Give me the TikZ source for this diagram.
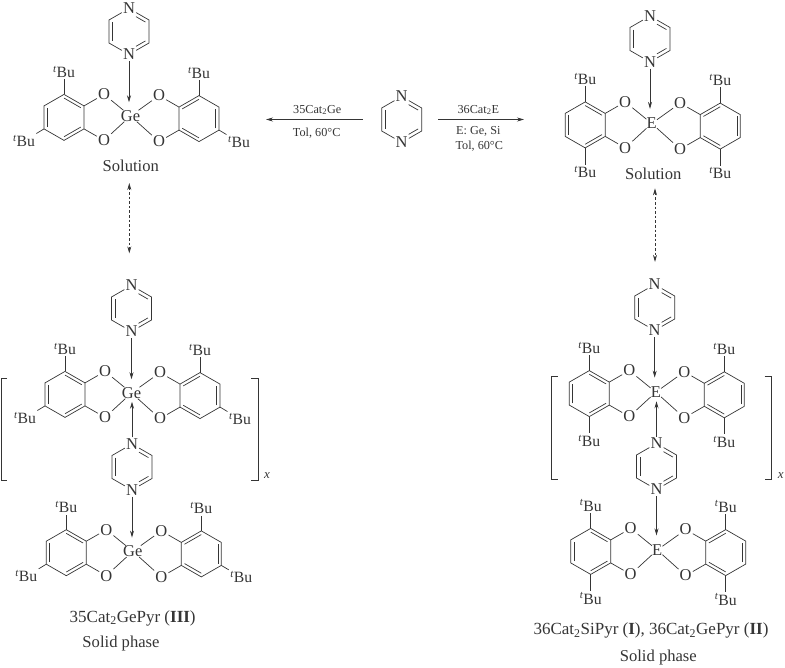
\documentclass[tikz,border=0pt]{standalone}
\usepackage{fontspec}
\setmainfont{Liberation Serif}
\usetikzlibrary{calc,arrows.meta}
\definecolor{ink}{HTML}{353535}
\newcommand{\fsize}[1]{\fontsize{#1}{#1}\selectfont}
\newcommand{\drawPyrazine}[3]{%
    \begin{scope}[shift={(#2,#3)}]
        \coordinate (#1c) at (0,0);
        \node[atom] (#1top) at (0,-23) {N};
        \node[atom] (#1bot) at (0,23) {N};
        \coordinate (#1ul) at (-20,-11.5);
        \coordinate (#1ll) at (-20,11.5);
        \coordinate (#1ur) at (20,-11.5);
        \coordinate (#1lr) at (20,11.5);
        \draw[bond] (#1top) -- (#1ul) -- (#1ll) -- (#1bot) -- (#1lr) -- (#1ur) -- (#1top);
        \draw[bond] ($(#1c)!.82!(#1ul)$) -- ($(#1c)!.82!(#1ll)$);
        \draw[bond,shorten <=8pt] ($(#1c)!.82!(#1top)$) -- ($(#1c)!.82!(#1ur)$);
        \draw[bond,shorten <=8pt] ($(#1c)!.82!(#1bot)$) -- ($(#1c)!.82!(#1lr)$);
    \end{scope}
}
\newcommand{\drawArene}[4]{%
    \begin{scope}[shift={(#2,#3)},xscale=#4]
        \coordinate (#1c) at (0,0);
        \coordinate (#1top) at (0,-23);
        \coordinate (#1bot) at (0,23);
        \coordinate (#1iu) at (20,-11.5);
        \coordinate (#1il) at (20,11.5);
        \coordinate (#1ou) at (-20,-11.5);
        \coordinate (#1ol) at (-20,11.5);
        \draw[bond] (#1top) -- (#1iu) -- (#1il) -- (#1bot) -- (#1ol) -- (#1ou) -- cycle;
        \foreach \a/\b in {top/iu,il/bot,ol/ou} {
            \draw[bond] ($(#1c)!.84!(#1\a)$) -- ($(#1c)!.84!(#1\b)$);
        }
    \end{scope}
}
\newcommand{\drawCore}[4]{%
    \begin{scope}[shift={(#2,#3)}]
        \node[atom,inner sep=0pt] (#1E) at (-1,-2) {#4};
        \node[atom] (#1Oa) at (-27.5,-23.6) {O};
        \node[atom] (#1Ob) at (-27.5,22.4) {O};
        \node[atom] (#1Oc) at (27.5,-22.4) {O};
        \node[atom] (#1Od) at (27.5,23.6) {O};
        \drawArene{#1L}{-67.5}{-.6}{1}
        \drawArene{#1R}{67.5}{.6}{-1}
        \draw[bond] (#1Liu) -- (#1Oa) -- (#1E) -- (#1Od) -- (#1Ril);
        \draw[bond] (#1Lil) -- (#1Ob) -- (#1E) -- (#1Oc) -- (#1Riu);
    \end{scope}
}
\newcommand{\drawButyl}[4]{%
    \begin{scope}[shift={(#2,#3)}]
        \foreach \site/\dx/\dy [count=\k] in {#4} {
            \node[butyl] (#1Bu\k) at (\dx,\dy) {\textsuperscript{\itshape t}Bu};
            \draw[bond] (#1\site) -- (#1Bu\k);
        }
    \end{scope}
}
\newcommand{\drawThreeFive}[4]{%
    \drawCore{#1}{#2}{#3}{#4}
    \drawButyl{#1}{#2}{#3}{Ltop/-67.5/-46,Lol/-107.5/23,Rtop/67.5/-45,Rol/107.5/24}
}
\newcommand{\drawThreeSix}[4]{%
    \drawCore{#1}{#2}{#3}{#4}
    \drawButyl{#1}{#2}{#3}{Ltop/-67.5/-46.5,Lbot/-67.5/46.5,Rtop/67.5/-45.5,Rbot/67.5/47.5}
}
\newcommand{\drawBrackets}[5]{%
    \draw[bond] (#1+6,#3) -- (#1,#3) -- (#1,#4) -- (#1+6,#4);
    \draw[bond] (#2-7,#3) -- (#2,#3) -- (#2,#4) -- (#2-7,#4);
    \node[cond,font=\fsize{13}\itshape] (#5) at (#2+9,#4-4) {x};
}

\begin{document}
\begin{tikzpicture}[x=1pt,y=-1pt,color=ink,
    bond/.style={draw=ink,line width=.7pt},
    atom/.style={inner sep=1pt,text=ink,font=\fsize{16.5}},
    butyl/.style={inner sep=1.5pt,text=ink,font=\fsize{15.7}},
    txt/.style={inner sep=0pt,text=ink,font=\fsize{16.6}},
    cond/.style={inner sep=0pt,text=ink,font=\fsize{12.2}},
    dative/.style={draw=ink,line width=.7pt,-{Stealth[length=7pt,width=4pt]}},
    dashlink/.style={draw=ink,line width=.7pt,dash pattern=on 2.6pt off 2pt,{Stealth[length=7pt,width=4pt]}-{Stealth[length=7pt,width=4pt]}}]
\useasboundingbox (0,0) rectangle (785,668);

% starting pyrazine and both reactions
\drawPyrazine{pyrC}{401.7}{119.5}
\coordinate (arrL) at (266,119.5);
\coordinate (arrR) at (524,119.5);
\draw[dative,shorten <=39pt] (pyrCc) -- (arrL);
\draw[dative,shorten <=36.6pt] (pyrCc) -- (arrR);
\node[cond] (condA) at (317.3,110) {35Cat\textsubscript{2}Ge};
\node[cond] (condB) at (316.7,133.3) {Tol, 60°C};
\node[cond] (condC) at (478.3,110) {36Cat\textsubscript{2}E};
\node[cond] (condD) at (478.3,131) {E: Ge, Si};
\node[cond] (condE) at (479.3,146) {Tol, 60°C};

% left column
\drawThreeFive{geA}{131.5}{118}{Ge}
\drawPyrazine{pyrA}{129}{31.5}
\draw[dative,shorten >=8pt] (pyrAbot.south) -- (pyrAbot.south |- geAE.north);
\node[txt] (solA) at (130.8,166) {Solution};

\drawThreeFive{geB}{132.5}{395}{Ge}
\drawPyrazine{pyrB}{131.5}{308.5}
\drawPyrazine{pyrD}{132}{467}
\draw[dative,shorten >=8pt] (pyrBbot.south) -- (pyrBbot.south |- geBE.north);
\draw[dative,shorten >=3pt] (pyrDtop.north) -- (pyrDtop.north |- geBE.south);
\draw[dashlink,shorten <=11pt,shorten >=25.5pt] ([xshift=-1.5pt]solA.south) -- ([xshift=-1.5pt]solA.south |- pyrBtop.north);
\drawBrackets{1}{258}{378}{480}{polyA}

\drawThreeFive{geC}{133.8}{553.3}{Ge}
\draw[dative,shorten >=8pt] (pyrDbot.south) -- (pyrDbot.south |- geCE.north);
\node[txt,font=\fsize{17}] (nameA) at (132.7,618) {35Cat\textsubscript{2}GePyr (\textbf{III})};
\node[txt] (phaseA) at (121,644) {Solid phase};

% right column
\drawThreeSix{eA}{652.7}{125.5}{E}
\drawPyrazine{pyrE}{650}{39}
\draw[dative,shorten >=9pt] (pyrEbot.south) -- (pyrEbot.south |- eAE.north);
\node[txt] (solB) at (653.3,174.3) {Solution};

\drawThreeSix{eB}{656.8}{394.2}{E}
\drawPyrazine{pyrF}{654.7}{307.5}
\drawPyrazine{pyrG}{656.5}{466.5}
\draw[dative,shorten >=9pt] (pyrFbot.south) -- (pyrFbot.south |- eBE.north);
\draw[dative,shorten >=3.5pt] (pyrGtop.north) -- (pyrGtop.north |- eBE.south);
\draw[dashlink,shorten <=8pt,shorten >=16pt] ([xshift=1.7pt]solB.south) -- ([xshift=1.7pt]solB.south |- pyrFtop.north);
\drawBrackets{551.7}{771.7}{376}{479.3}{polyB}

\drawThreeSix{eC}{658.2}{552}{E}
\draw[dative,shorten >=9pt] (pyrGbot.south) -- (pyrGbot.south |- eCE.north);
\node[txt,font=\fsize{17}] (nameB) at (651,630.7) {36Cat\textsubscript{2}SiPyr (\textbf{I}), 36Cat\textsubscript{2}GePyr (\textbf{II})};
\node[txt] (phaseB) at (658.3,657.3) {Solid phase};
\end{tikzpicture}
\end{document}
